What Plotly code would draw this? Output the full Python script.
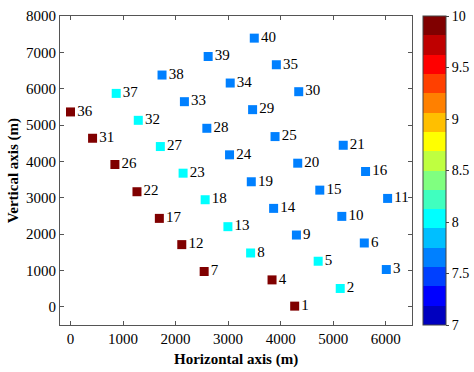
import plotly.graph_objects as go

# Point ids, positions (m) and values
ids = list(range(1, 41))
x_m = [4267, 5134, 6011, 3836, 4714, 5592, 2544, 3428, 4300, 5164,
       6036, 2118, 2996, 3866, 4745, 5616, 1691, 2563, 3441, 4325,
       5191, 1265, 2143, 3027, 3893, 845, 1710, 2595, 3466, 4344,
       420, 1290, 2168, 3040, 3918, 0, 870, 1742, 2620, 3498]
y_m = [19, 505, 1026, 741, 1254, 1756, 971, 1481, 1975, 2488,
       2982, 1711, 2205, 2708, 3210, 3723, 2433, 2946, 3440, 3951,
       4444, 3166, 3676, 4181, 4683, 3915, 4409, 4911, 5424, 5918,
       4637, 5130, 5643, 6156, 6659, 5361, 5871, 6376, 6886, 7391]
vals = [10, 8.0, 7.65, 10, 8.0, 7.65, 10, 8.0, 7.65, 7.65,
        7.65, 10, 8.0, 7.65, 7.65, 7.65, 10, 8.0, 7.65, 7.65,
        7.65, 10, 8.0, 7.65, 7.65, 10, 8.0, 7.65, 7.65, 7.65,
        10, 8.0, 7.65, 7.65, 7.65, 10, 8.0, 7.65, 7.65, 7.65]

x_ticks = [0, 1000, 2000, 3000, 4000, 5000, 6000]
y_ticks = [0, 1000, 2000, 3000, 4000, 5000, 6000, 7000, 8000]
cb_ticks = [7, 7.5, 8, 8.5, 9, 9.5, 10]
cb_labels = ["7", "7.5", "8", "8.5", "9", "9.5", "10"]
x_title = "Horizontal axis (m)"
y_title = "Vertical axis (m)"

jet16 = [(0, 0, 0.75), (0, 0, 1), (0, 0.25, 1), (0, 0.5, 1), (0, 0.75, 1), (0, 1, 1),
         (0.25, 1, 0.75), (0.5, 1, 0.5), (0.75, 1, 0.25), (1, 1, 0), (1, 0.75, 0),
         (1, 0.5, 0), (1, 0.25, 0), (1, 0, 0), (0.75, 0, 0), (0.5, 0, 0)]
n = len(jet16)
cscale = []
for i, c in enumerate(jet16):
    col = "rgb(%d,%d,%d)" % tuple(round(v * 255) for v in c)
    cscale.append([i / n, col])
    cscale.append([(i + 1) / n, col])

font_family = "Liberation Serif, Times New Roman, serif"

fig = go.Figure(go.Scatter(
    x=x_m, y=y_m, mode="markers+text",
    text=[str(i) for i in ids], textposition="middle right",
    textfont=dict(family=font_family, size=15, color="black"),
    marker=dict(symbol="square", size=9, color=vals, colorscale=cscale,
                cmin=7, cmax=10, line=dict(width=0),
                showscale=True,
                colorbar=dict(x=1.031, xanchor="left", xpad=0, y=0.5, yanchor="middle",
                              len=1.0, lenmode="fraction", ypad=0,
                              thickness=23, thicknessmode="pixels",
                              outlinewidth=1, outlinecolor="#444",
                              tickvals=cb_ticks, ticktext=cb_labels,
                              ticks="outside", ticklen=3, tickcolor="#444",
                              tickfont=dict(family=font_family, size=14, color="black"))),
    showlegend=False, cliponaxis=False, hoverinfo="skip",
))

axis_common = dict(showgrid=False, zeroline=False, showline=True, linecolor="#555",
                   linewidth=1, mirror="ticks", ticks="inside", ticklen=4,
                   tickcolor="#555", automargin=False,
                   tickfont=dict(family=font_family, size=15, color="black"))

fig.update_xaxes(range=[-200, 6500], tickvals=x_ticks, **axis_common)
fig.update_yaxes(range=[-500, 8000], tickvals=y_ticks, **axis_common)

title_font = dict(family=font_family, size=15, color="black")
fig.add_annotation(text="<b>%s</b>" % x_title, xref="paper", yref="paper",
                   x=0.5, y=-0.112, xanchor="center", yanchor="middle",
                   showarrow=False, font=title_font)
fig.add_annotation(text="<b>%s</b>" % y_title, xref="paper", yref="paper",
                   x=-0.1316, y=0.5, xanchor="center", yanchor="middle",
                   textangle=-90, showarrow=False, font=title_font)

fig.update_layout(width=474, height=372, margin=dict(l=60, r=62, t=16, b=47, autoexpand=False),
                  plot_bgcolor="white", paper_bgcolor="white",
                  font=dict(family=font_family, size=15, color="black"))

fig.write_html("out.html", config={"displayModeBar": False},
               post_script="document.body.style.margin='0';document.body.style.overflow='hidden';")
